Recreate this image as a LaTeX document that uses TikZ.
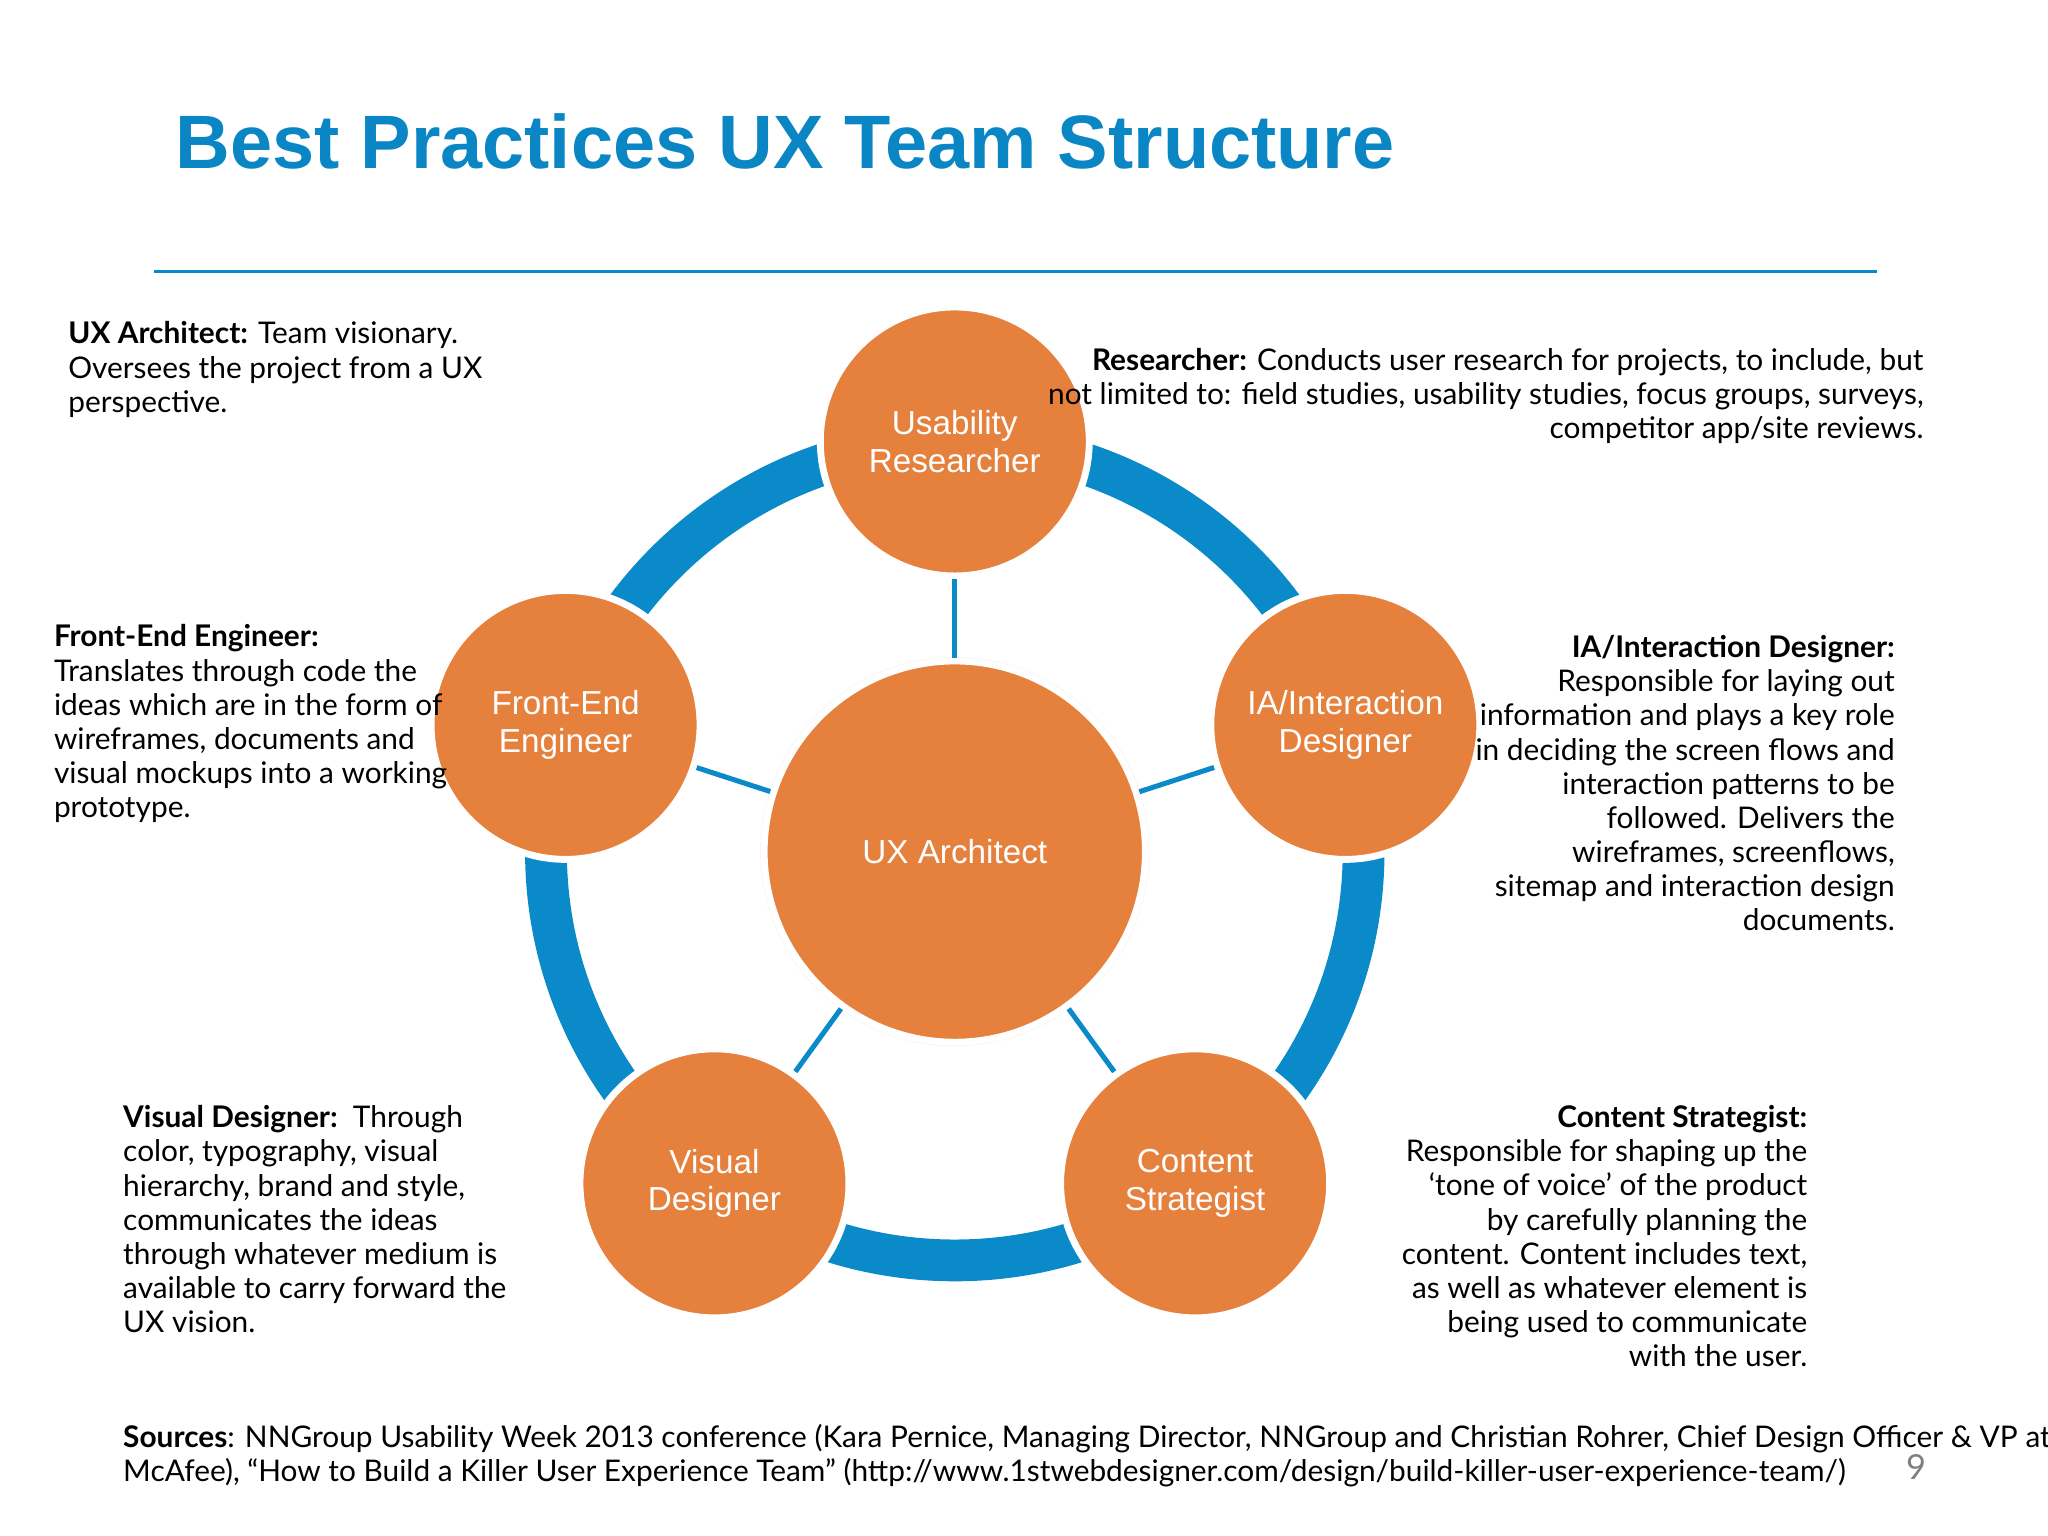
\documentclass[tikz,border=0pt]{standalone}
\usepackage{fontspec}
\usetikzlibrary{shadows}
\setmainfont{Lato}
\newfontfamily\arialf{Liberation Sans}
\definecolor{uxblue}{HTML}{0A8AC8}
\definecolor{uxorange}{HTML}{E5803D}
\definecolor{titleblue}{HTML}{0A86C4}
\begin{document}
\begin{tikzpicture}[x=0.02cm,y=-0.02cm,
  role/.style={circle,fill=uxorange,draw=white,line width=3pt,minimum size=#1*0.04cm,inner sep=0pt,
    text=white,font=\arialf\fontsize{14.5}{16.5}\selectfont,align=center,
    drop shadow={opacity=0.15,shadow xshift=0pt,shadow yshift=0pt,shadow scale=1.02}},
  spoke/.style={uxblue,line width=2.2pt},
  desc/.style={inner sep=0pt,font=\fontsize{13}{14.9}\selectfont}]
\useasboundingbox (0,0) rectangle (1568,1176);
\node[anchor=west,text=titleblue,font=\arialf\bfseries\fontsize{33}{38}\selectfont,inner sep=0pt] (title) at (134,108) {Best Practices UX Team Structure};
\coordinate (l1) at (118,208); \coordinate (l2) at (1437,208);
\draw[uxblue,line width=1.2pt] (l1) -- (l2);
\coordinate (c) at (731,652);
\draw[uxblue,line width=0.64cm] (c) circle (313);
\node[role=146] (ux) at (731,652) {UX Architect};
\node[role=103] (ur) at (731,338) {Usability\\Researcher};
\node[role=103] (fe) at (433,555) {Front-End\\Engineer};
\node[role=103] (ia) at (1030,555) {IA/Interaction\\Designer};
\node[role=103] (vd) at (547,906) {Visual\\Designer};
\node[role=103] (cs) at (915,906) {Content\\Strategist};
\foreach \n in {ur,fe,ia,vd,cs}{\draw[spoke] (ux) -- (\n);}
\node[desc,anchor=north west,align=left] (t1) at (52,246) {\textbf{UX Architect:} Team visionary.\\Oversees the project from a UX\\perspective.};
\node[desc,anchor=north east,align=right] (t2) at (1473,266) {\textbf{Researcher:} Conducts user research for projects, to include, but\\not limited to: field studies, usability studies, focus groups, surveys,\\competitor app/site reviews.};
\node[desc,anchor=north west,align=left] (t3) at (41,478) {\textbf{Front-End Engineer:}\\Translates through code the\\ideas which are in the form of\\wireframes, documents and\\visual mockups into a working\\prototype.};
\node[desc,anchor=north east,align=right] (t4) at (1451,486) {\textbf{IA/Interaction Designer:}\\Responsible for laying out\\information and plays a key role\\in deciding the screen flows and\\interaction patterns to be\\followed. Delivers the\\wireframes, screenflows,\\sitemap and interaction design\\documents.};
\node[desc,anchor=north west,align=left] (t5) at (94,846) {\textbf{Visual Designer:}\ \ Through\\color, typography, visual\\hierarchy, brand and style,\\communicates the ideas\\through whatever medium is\\available to carry forward the\\UX vision.};
\node[desc,anchor=north east,align=right] (t6) at (1384,846) {\textbf{Content Strategist:}\\Responsible for shaping up the\\‘tone of voice’ of the product\\by carefully planning the\\content. Content includes text,\\as well as whatever element is\\being used to communicate\\with the user.};
\node[desc,anchor=north west,align=left] (src) at (94,1090) {\textbf{Sources}: NNGroup Usability Week 2013 conference (Kara Pernice, Managing Director, NNGroup and Christian Rohrer, Chief Design Officer \& VP at\\McAfee), “How to Build a Killer User Experience Team” (http://www.1stwebdesigner.com/design/build-killer-user-experience-team/)};
\node[text=gray,font=\fontsize{15}{17}\selectfont] (pg) at (1467,1123) {9};
\end{tikzpicture}
\end{document}
